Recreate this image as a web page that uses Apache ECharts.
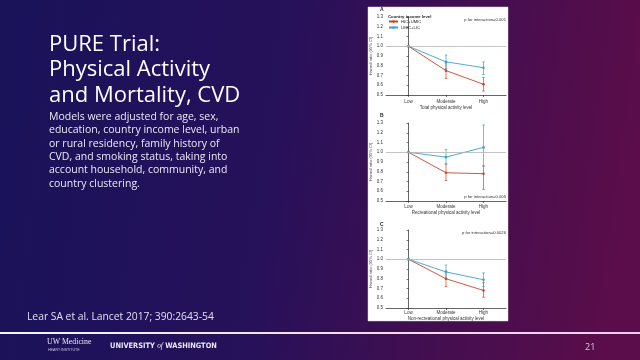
<!DOCTYPE html>
<html><head><meta charset="utf-8">
<script src="https://cdn.jsdelivr.net/npm/echarts@6/dist/echarts.min.js"></script>
<style>html,body{margin:0;padding:0;background:#1b1356}#c{width:640px;height:360px}</style>
</head><body><div id="c"></div>
<script>
// ---------- data ----------
const levels = ['Low', 'Moderate', 'High'];
const groupNames = ['HIC+UMIC', 'LMIC+LIC'];
const yTicksMin = 0.5, yTicksMax = 1.3, yTickStep = 0.1;

// Panel A: total physical activity
const aRich = [1.00, 0.75, 0.61];
const aRichLo = [1.00, 0.67, 0.54];
const aRichHi = [1.00, 0.83, 0.68];
const aPoor = [1.00, 0.84, 0.78];
const aPoorLo = [1.00, 0.77, 0.71];
const aPoorHi = [1.00, 0.91, 0.84];

// Panel B: recreational physical activity
const bRich = [1.00, 0.79, 0.78];
const bRichLo = [1.00, 0.71, 0.62];
const bRichHi = [1.00, 0.88, 0.86];
const bPoor = [1.00, 0.95, 1.05];
const bPoorLo = [1.00, 0.88, 0.86];
const bPoorHi = [1.00, 1.03, 1.28];

// Panel C: non-recreational physical activity
const cRich = [1.00, 0.80, 0.68];
const cRichLo = [1.00, 0.72, 0.61];
const cRichHi = [1.00, 0.88, 0.76];
const cPoor = [1.00, 0.87, 0.79];
const cPoorLo = [1.00, 0.80, 0.72];
const cPoorHi = [1.00, 0.94, 0.86];

const panelLetters = ['A', 'B', 'C'];
const panelXTitles = ['Total physical activity level', 'Recreational physical activity level', 'Non-recreational physical activity level'];
const panelPTexts = ['p for interaction=0.001', 'p for interaction=0.005', 'p for interaction=0.0026'];

const titleLines = ['PURE Trial:', 'Physical Activity', 'and Mortality, CVD'];
const bodyLines = ['Models were adjusted for age, sex,', 'education, country income level, urban', 'or rural residency, family history of', 'CVD, and smoking status, taking into', 'account household, community, and', 'country clustering.'];
const citation = 'Lear SA et al. Lancet 2017; 390:2643-54';

// ---------- build ----------
const RED = '#c9452f', BLUE = '#3aa3c6';
const panels = [
  {top: 17, h: 78, lm: 4, ng: 10, rich: [aRich, aRichLo, aRichHi], poor: [aPoor, aPoorLo, aPoorHi]},
  {top: 123, h: 78, lm: 3.5, ng: 9.5, rich: [bRich, bRichLo, bRichHi], poor: [bPoor, bPoorLo, bPoorHi]},
  {top: 230, h: 78, lm: 2.5, ng: 8, rich: [cRich, cRichLo, cRichHi], poor: [cPoor, cPoorLo, cPoorHi]}
];
const gridLeft = 386, gridW = 120;

function errItem(params, api) {
  const x = api.value(0), lo = api.value(1), hi = api.value(2);
  if (lo === hi) return null;
  const p1 = api.coord([x, hi]), p2 = api.coord([x, lo]);
  const cw = 1.3, col = api.visual('color');
  const st = {stroke: col, lineWidth: 0.7};
  return {type: 'group', children: [
    {type: 'line', shape: {x1: p1[0], y1: p1[1], x2: p2[0], y2: p2[1]}, style: st},
    {type: 'line', shape: {x1: p1[0] - cw, y1: p1[1], x2: p1[0] + cw, y2: p1[1]}, style: st},
    {type: 'line', shape: {x1: p2[0] - cw, y1: p2[1], x2: p2[0] + cw, y2: p2[1]}, style: st}
  ]};
}

const grids = [], xAxes = [], yAxes = [], series = [];
const tickFont = {fontSize: 4.5, color: '#333', fontFamily: 'Liberation Sans'};
panels.forEach((p, i) => {
  grids.push({left: gridLeft, top: p.top, width: gridW, height: p.h});
  xAxes.push({
    type: 'value', gridIndex: i, min: -0.6, max: 2.6,
    axisLine: {lineStyle: {color: '#222', width: 0.7}},
    axisTick: {customValues: [0, 1, 2], length: 2, lineStyle: {color: '#222', width: 0.6}},
    axisLabel: Object.assign({customValues: [0, 1, 2], formatter: v => levels[v], margin: p.lm}, tickFont),
    splitLine: {show: false},
    name: panelXTitles[i], nameLocation: 'middle', nameGap: p.ng,
    nameTextStyle: {fontSize: 4.5, color: '#333', fontFamily: 'Liberation Sans'}
  });
  yAxes.push({
    type: 'value', gridIndex: i, min: yTicksMin, max: yTicksMax, interval: yTickStep,
    axisLine: {show: true, lineStyle: {color: '#222', width: 0.7}},
    axisTick: {show: true, length: 2, lineStyle: {color: '#222', width: 0.6}},
    axisLabel: Object.assign({formatter: v => v.toFixed(1), margin: 3, showMaxLabel: true, showMinLabel: true}, tickFont),
    splitLine: {show: false},
    name: 'Hazard ratio (95% CI)', nameLocation: 'middle', nameGap: 12, nameRotate: 90,
    nameTextStyle: {fontSize: 4, color: '#444', fontFamily: 'Liberation Sans'}
  });
  [[p.rich, groupNames[0], RED], [p.poor, groupNames[1], BLUE]].forEach(([arr, name, col], k) => {
    const [mid, lo, hi] = arr;
    series.push({
      type: 'line', name: name, xAxisIndex: i, yAxisIndex: i,
      data: mid.map((v, j) => [j, v]),
      symbol: 'circle', symbolSize: 2.6, color: col,
      lineStyle: {width: 0.9, color: col}, itemStyle: {color: col},
      z: 4,
      markLine: k === 0 ? {
        silent: true, symbol: 'none', label: {show: false},
        lineStyle: {color: '#b5b5b5', width: 0.8, type: 'solid'},
        data: [{yAxis: 1.0}]
      } : undefined
    });
    series.push({
      type: 'custom', name: name, xAxisIndex: i, yAxisIndex: i,
      renderItem: errItem, itemStyle: {color: col}, z: 3,
      data: mid.map((v, j) => [j, lo[j], hi[j]])
    });
  });
});

const graphics = [
  // white figure panel
  {type: 'rect', shape: {x: 368, y: 7, width: 140, height: 314}, style: {fill: '#ffffff', stroke: '#d8d8d8', lineWidth: 0.5}, z: -10},
  // title
  {type: 'text', x: 49, y: 31.5, style: {text: titleLines.join('\n'), fill: '#ffffff', font: '22px "Open Sans"', lineHeight: 25.5, verticalAlign: 'top'}},
  {type: 'text', x: 49, y: 110.5, style: {text: bodyLines.join('\n'), fill: '#ebe9f3', font: '10.5px "Open Sans"', lineHeight: 13.3, verticalAlign: 'top'}},
  {type: 'text', x: 27, y: 317, style: {text: citation, fill: '#e2e0ee', font: '10.3px "Open Sans"', verticalAlign: 'middle'}},
  // separator line
  {type: 'rect', shape: {x: 0, y: 332, width: 640, height: 2}, style: {fill: {type: 'linear', x: 0, y: 0, x2: 1, y2: 0, colorStops: [{offset: 0, color: '#f4f2fa'}, {offset: 1, color: '#f2cdee'}]}}},
  // footer
  {type: 'text', x: 47, y: 342, style: {text: 'UW Medicine', fill: '#e8e6f2', font: '7.8px "Liberation Serif"', verticalAlign: 'middle'}},
  {type: 'text', x: 48, y: 349.5, style: {text: 'HEART INSTITUTE', fill: '#c8c6dc', font: '3.6px "Liberation Sans"', verticalAlign: 'middle'}},
  {type: 'text', x: 110, y: 346.5, style: {
    text: '{a|UNIVERSITY }{b|of}{a| WASHINGTON}',
    rich: {a: {fill: '#e8e6f2', font: 'bold 7.4px "DejaVu Sans Condensed"'}, b: {fill: '#e8e6f2', font: 'italic 7.4px "Liberation Serif"'}},
    verticalAlign: 'middle'}},
  {type: 'text', x: 585, y: 347, style: {text: '21', fill: '#d9c8df', font: '9px "Open Sans"', verticalAlign: 'middle'}}
];
panels.forEach((p, i) => {
  graphics.push({type: 'text', x: 380, y: p.top - (i === 2 ? 5 : 7), style: {text: panelLetters[i], fill: '#222', font: 'bold 5px "Liberation Sans"', verticalAlign: 'middle'}});
  const pTop = i === 1 ? p.top + p.h - 4 : p.top + 3;
  graphics.push({type: 'text', x: 506, y: pTop, style: {text: panelPTexts[i], fill: '#333', font: '4.2px "Liberation Sans"', align: 'right', verticalAlign: 'middle'}});
});
graphics.push({type: 'text', x: 388, y: 16.5, style: {text: 'Country income level', fill: '#222', font: 'bold 4.3px "Liberation Sans"', verticalAlign: 'middle'}});

const chart = echarts.init(document.getElementById('c'), null, {renderer: 'canvas'});
chart.setOption({
  animation: false,
  backgroundColor: {type: 'linear', x: 0, y: 0, x2: 1, y2: 0.25, colorStops: [
    {offset: 0, color: '#19135a'}, {offset: 0.45, color: '#26115a'}, {offset: 0.75, color: '#440e4f'}, {offset: 1, color: '#5a0d4a'}]},
  legend: {
    data: groupNames, orient: 'vertical', left: 388, top: 19.5, itemGap: 2,
    itemWidth: 9, itemHeight: 3, selectedMode: false, padding: 0,
    textStyle: {fontSize: 4.2, color: '#222', fontFamily: 'Liberation Sans', padding: [0, 0, 0, -2]}
  },
  grid: grids, xAxis: xAxes, yAxis: yAxes, series: series, graphic: graphics
});
</script></body></html>
